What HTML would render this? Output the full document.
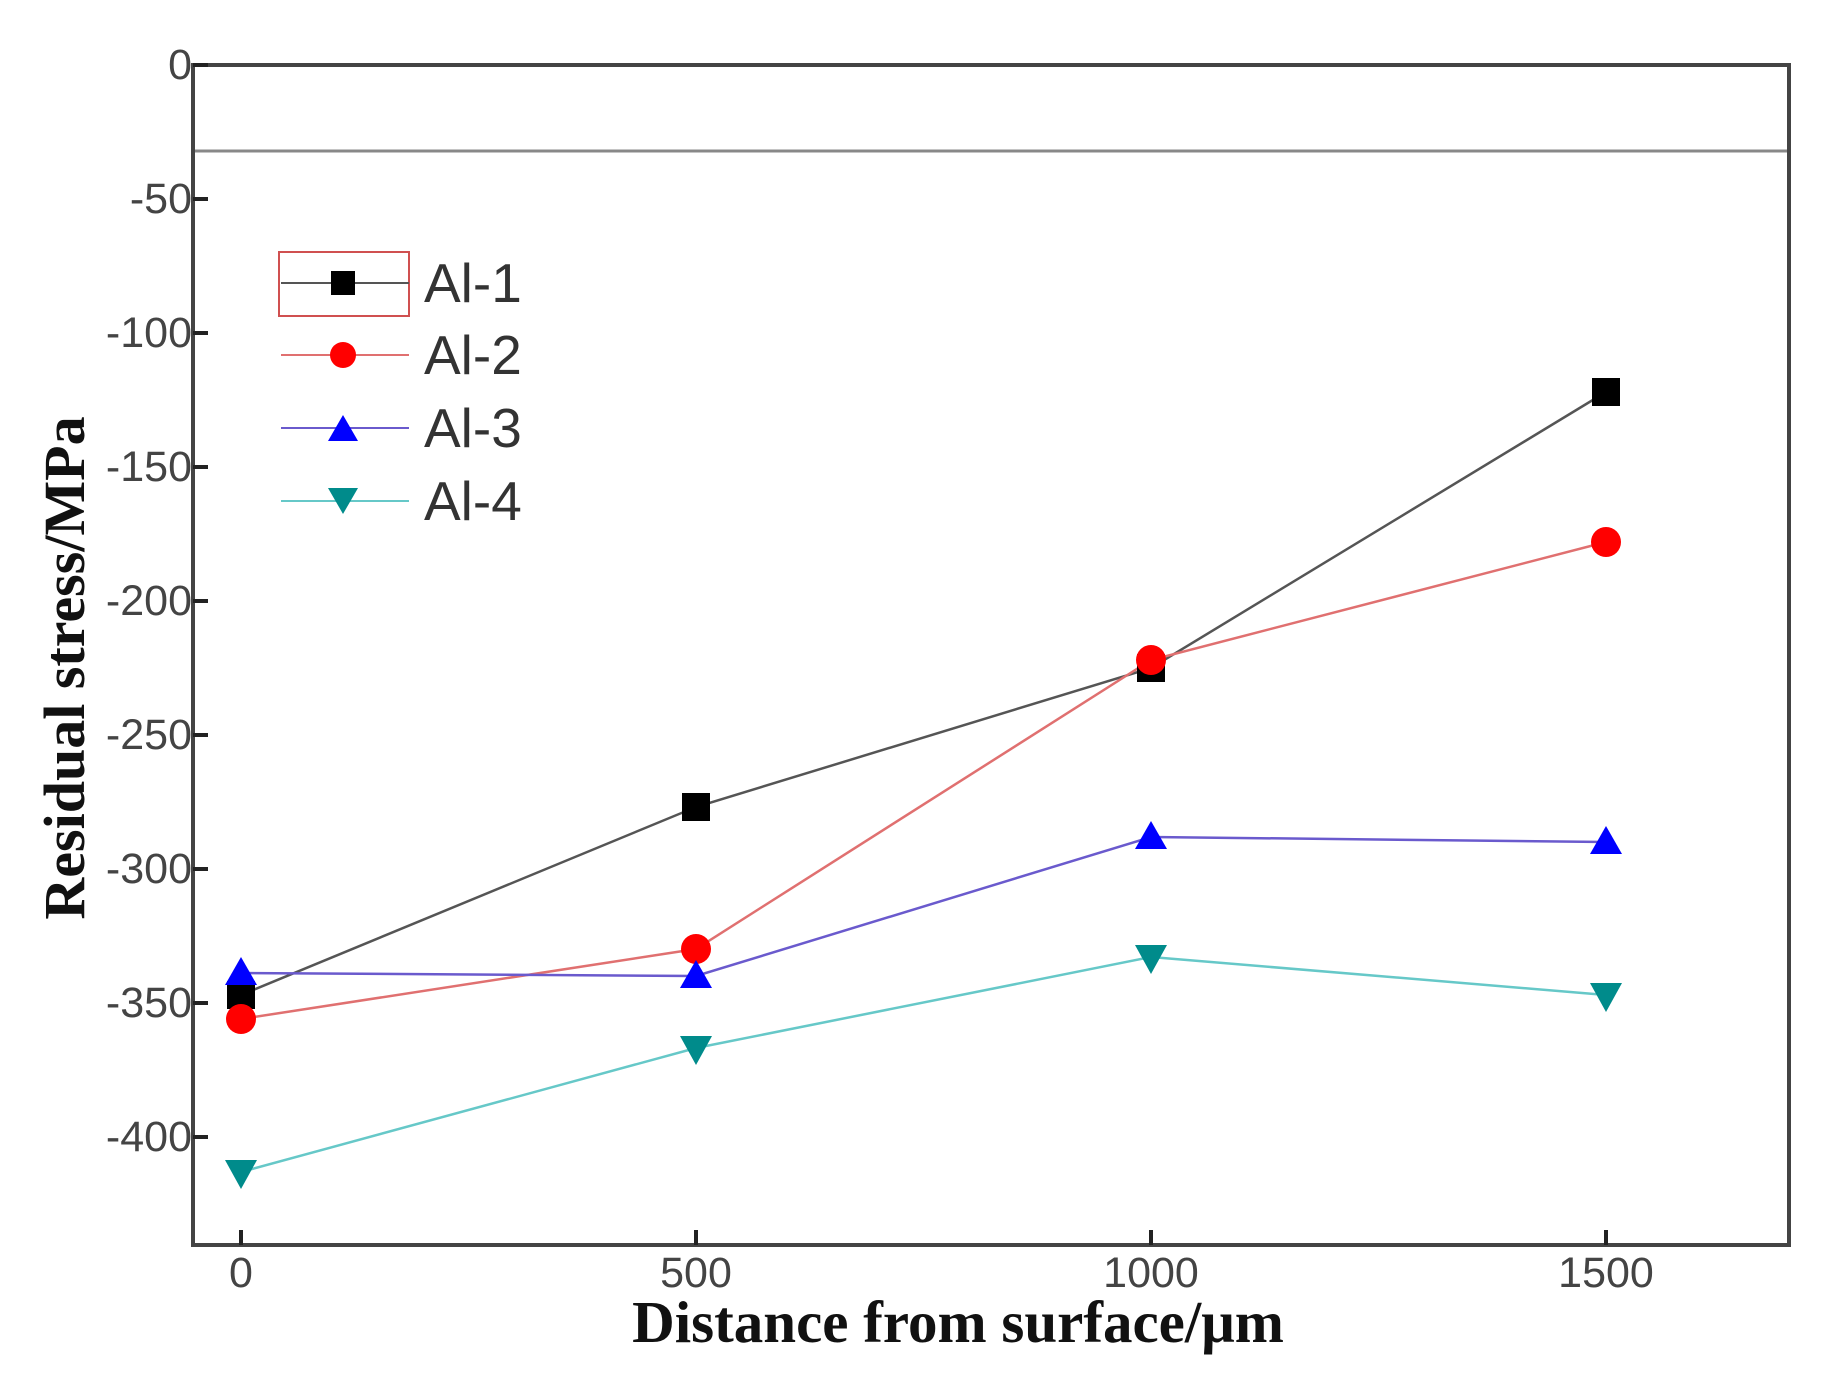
<!DOCTYPE html>
<html><head><meta charset="utf-8"><style>body{margin:0;background:#fff}</style></head><body>
<svg width="1822" height="1382" xmlns="http://www.w3.org/2000/svg" font-family="Liberation Sans, sans-serif">
<rect width="1822" height="1382" fill="#fff"/>
<line x1="193" y1="151" x2="1789" y2="151" stroke="#888" stroke-width="3"/>
<rect x="193" y="65" width="1596" height="1180" fill="none" stroke="#444" stroke-width="4"/>
<g stroke="#222" stroke-width="4">
<line x1="193" y1="65" x2="208" y2="65"/><line x1="193" y1="199" x2="208" y2="199"/><line x1="193" y1="333" x2="208" y2="333"/><line x1="193" y1="467" x2="208" y2="467"/><line x1="193" y1="601" x2="208" y2="601"/><line x1="193" y1="735" x2="208" y2="735"/><line x1="193" y1="869" x2="208" y2="869"/><line x1="193" y1="1003" x2="208" y2="1003"/><line x1="193" y1="1137" x2="208" y2="1137"/>
<line x1="241" y1="1245" x2="241" y2="1230"/><line x1="696" y1="1245" x2="696" y2="1230"/><line x1="1151" y1="1245" x2="1151" y2="1230"/><line x1="1606" y1="1245" x2="1606" y2="1230"/>
</g>
<g font-size="43" fill="#444" text-anchor="end">
<text x="192" y="79">0</text><text x="192" y="213">-50</text><text x="192" y="347">-100</text><text x="192" y="481">-150</text><text x="192" y="615">-200</text><text x="192" y="749">-250</text><text x="192" y="883">-300</text><text x="192" y="1017">-350</text><text x="192" y="1151">-400</text>
</g>
<g font-size="43" fill="#444" text-anchor="middle">
<text x="241" y="1287">0</text><text x="696" y="1287">500</text><text x="1151" y="1287">1000</text><text x="1606" y="1287">1500</text>
</g>
<text x="958" y="1342" font-family="Liberation Serif, serif" font-weight="bold" font-size="59" text-anchor="middle" fill="#111">Distance from surface/μm</text>
<text transform="translate(84,668) rotate(-90)" font-family="Liberation Serif, serif" font-weight="bold" font-size="58" text-anchor="middle" fill="#111">Residual stress/MPa</text>
<polyline points="241,995 696,807 1151,668 1606,392" fill="none" stroke="#555" stroke-width="2.5"/>
<polyline points="241,1019 696,949 1151,660 1606,542" fill="none" stroke="#e07070" stroke-width="2.5"/>
<polyline points="241,973 696,976 1151,837 1606,842" fill="none" stroke="#6a5acd" stroke-width="2.5"/>
<polyline points="241,1172 696,1048 1151,957 1606,995" fill="none" stroke="#66c8c8" stroke-width="2.5"/>
<g fill="#000"><rect x="227" y="981" width="28" height="28"/><rect x="682" y="793" width="28" height="28"/><rect x="1137" y="654" width="28" height="28"/><rect x="1592" y="378" width="28" height="28"/></g>
<g fill="#f00"><circle cx="241" cy="1019" r="15"/><circle cx="696" cy="949" r="15"/><circle cx="1151" cy="660" r="15"/><circle cx="1606" cy="542" r="15"/></g>
<g fill="#00f"><polygon points="241,957 257,985 225,985"/><polygon points="696,960 712,988 680,988"/><polygon points="1151,821 1167,849 1135,849"/><polygon points="1606,826 1622,854 1590,854"/></g>
<g fill="#008b8b"><polygon points="225,1160 257,1160 241,1189"/><polygon points="680,1036 712,1036 696,1065"/><polygon points="1135,945 1167,945 1151,974"/><polygon points="1590,983 1622,983 1606,1012"/></g>
<rect x="279" y="252" width="130" height="64" fill="none" stroke="#d05050" stroke-width="2"/>
<line x1="281" y1="283" x2="409" y2="283" stroke="#555" stroke-width="2"/><rect x="331" y="271" width="24" height="24" fill="#000"/>
<line x1="281" y1="355" x2="409" y2="355" stroke="#e07070" stroke-width="2"/><circle cx="343" cy="355" r="13" fill="#f00"/>
<line x1="281" y1="428" x2="409" y2="428" stroke="#6a5acd" stroke-width="2"/><polygon points="343,415 358,441 328,441" fill="#00f"/>
<line x1="281" y1="501" x2="409" y2="501" stroke="#66c8c8" stroke-width="2"/><polygon points="328,488 358,488 343,514" fill="#008b8b"/>
<g font-size="55" fill="#333"><text x="424" y="302">Al-1</text><text x="424" y="374">Al-2</text><text x="424" y="447">Al-3</text><text x="424" y="520">Al-4</text></g>
</svg>
</body></html>
